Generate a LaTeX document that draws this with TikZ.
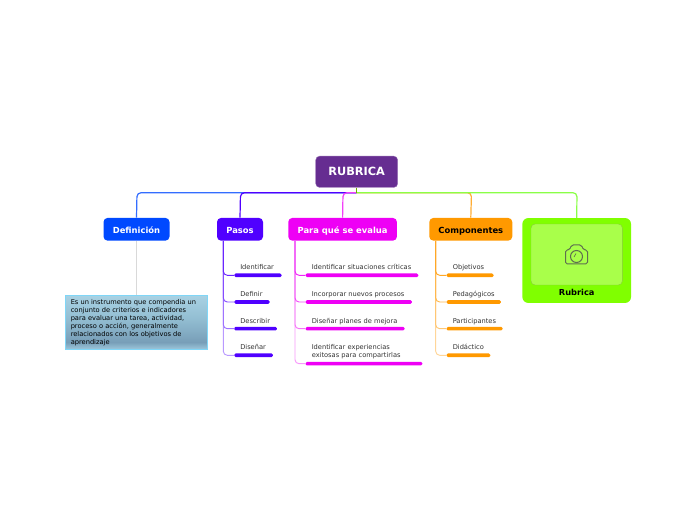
\documentclass[tikz,border=0pt]{standalone}
\usepackage{fontspec}
\setmainfont{DejaVu Sans}
\definecolor{cRoot}{HTML}{662D91}
\definecolor{cDef}{HTML}{0049FF}
\definecolor{cPas}{HTML}{5000FF}
\definecolor{cPar}{HTML}{EE00F5}
\definecolor{cCom}{HTML}{FF9900}
\definecolor{cRub}{HTML}{80FF00}
\definecolor{cIn}{HTML}{A9FF4A}
\definecolor{cIco}{HTML}{5F6F50}
\pgfdeclareverticalshading{noteshade}{100bp}{
  rgb(0bp)=(0.62,0.79,0.87);
  rgb(25bp)=(0.62,0.79,0.87);
  rgb(32bp)=(0.47,0.62,0.72);
  rgb(42bp)=(0.52,0.68,0.77);
  rgb(55bp)=(0.58,0.75,0.83);
  rgb(75bp)=(0.66,0.82,0.89);
  rgb(100bp)=(0.66,0.82,0.89)}
\begin{document}
\begin{tikzpicture}[x=0.75pt,y=-0.75pt,
  box/.style={rounded corners=3pt,inner sep=0pt,anchor=center},
  topic/.style={box,font=\bfseries\fontsize{6.3}{8}\selectfont,minimum height=17pt,text height=6.4pt,text depth=0pt},
  bar/.style={rounded corners=1pt,inner sep=0pt,minimum height=2.7pt,anchor=west},
  lbl/.style={font=\fontsize{5}{6.2}\selectfont,text=black!80,anchor=base west,inner sep=0pt,align=left},
  link/.style={line width=0.9pt,rounded corners=3pt},
  sub/.style={line width=0.7pt,rounded corners=3pt}]
\useasboundingbox (0,0) rectangle (697,520);
\fill[white] (0,0) rectangle (697,520);

% nodes
\node[box,fill=cRoot,draw=cRoot!70,line width=0.3pt,text=white,font=\bfseries\fontsize{8.5}{10}\selectfont,minimum width=61.5pt,minimum height=23.5pt] (root) at (356.7,171.8) {RUBRICA};
\node[topic,fill=cDef,text=white,minimum width=49.5pt] (def) at (136.5,229.3) {Definición};
\node[topic,fill=cPas,text=white,minimum width=34.5pt] (pas) at (240,229.3) {Pasos};
\node[topic,fill=cPar,text=white,minimum width=81.5pt] (par) at (342.6,229.3) {Para qué se evalua};
\node[topic,fill=cCom,text=black,minimum width=62.2pt] (com) at (470.8,229.3) {Componentes};
\node[box,fill=cRub,minimum width=81.5pt,minimum height=63.7pt,rounded corners=4.5pt] (rub) at (576.7,260.5) {};
\node[box,fill=cIn,draw=cIn!80!black,line width=0.3pt,minimum width=68.5pt,minimum height=45.7pt] (img) at (576.7,254.5) {};
\node[font=\bfseries\fontsize{6.2}{8}\selectfont,inner sep=0pt] (rubt) at (576.7,292) {Rubrica};
\node[inner sep=0pt,minimum width=106.8pt,minimum height=40.8pt,draw=cyan!50!white,line width=0.4pt,shading=noteshade] (note) at (136.5,322.5) {};
\node[anchor=north west,inner sep=0pt,align=left,font=\fontsize{5}{6}\selectfont,text=black] (notet) at (70.5,299.3)
  {Es un instrumento que compendia un\\conjunto de criterios e indicadores\\para evaluar una tarea, actividad,\\proceso o acción, generalmente\\relacionados con los objetivos de\\aprendizaje};

% camera icon
\coordinate (camc) at (576.5,256.5);
\draw[cIco,line width=0.75pt,rounded corners=1.3pt,line join=round]
  ([shift={(-11,-6.5)}]camc) -- ([shift={(-7,-6.5)}]camc) -- ([shift={(-5,-11.5)}]camc) -- ([shift={(5,-11.5)}]camc) -- ([shift={(7,-6.5)}]camc) -- ([shift={(11,-6.5)}]camc) -- ([shift={(11,7.5)}]camc) -- ([shift={(-11,7.5)}]camc) -- cycle;
\draw[cIco,line width=0.75pt] (camc) circle[radius=6];
\draw[cIco,line width=0.5pt] ([shift={(-2.5,0.5)}]camc) -- ([shift={(-0.5,-3)}]camc);

% bus
\coordinate (bus) at (356.7,192.7);
\draw[link,cDef!80!white] (bus) -- (137,192.7) -- (def.north);
\draw[link,cPas] (bus) -- (240.5,192.7) -- (pas.north);
\draw[link,cPar!75!white] (bus) -- (343,192.7) -- (par.north);
\draw[link,cCom!80!white] (bus) -- (471.5,192.7) -- (com.north);
\draw[link,cRub!65!white!80!green] (bus) -- (577,192.7) -- (rub.north);
\draw[line width=1pt,cRub!60!black!80!yellow] (root.south -| bus) -- (bus);
\draw[line width=1.3pt,black!15] (def.south) -- (note.north);

% children
\newcommand{\kid}[5]{% name, colour, right end, y of bar, start x
  \node[bar,fill=#2,minimum width={(#3-#5)*0.75pt}] (#1) at (#5,#4) {};}

% Pasos
\kid{pa}{cPas}{281.3}{275.3}{234}
\kid{pb}{cPas}{269.3}{302}{234}
\kid{pc}{cPas}{276.7}{328.7}{234}
\kid{pd}{cPas}{272.7}{355.3}{234}
\coordinate (ps) at (223.3,240.7);
\draw[sub,cPas!40!white] (ps) |- (pd.west);
\draw[sub,cPas!55!white] (ps) |- (pc.west);
\draw[sub,cPas!70!white] (ps) |- (pb.west);
\draw[sub,cPas!85!white] (ps) |- (pa.west);
\node[lbl] (pat) at (240,270) {Identificar};
\node[lbl] (pbt) at (240,296.5) {Definir};
\node[lbl] (pct) at (240,323.2) {Describir};
\node[lbl] (pdt) at (240,350) {Diseñar};

% Para que
\kid{qa}{cPar}{418}{275.3}{305.3}
\kid{qb}{cPar}{411.7}{302}{305.3}
\kid{qc}{cPar}{404.3}{328.7}{305.3}
\kid{qd}{cPar}{422}{363.7}{305.3}
\coordinate (qs) at (295,240.7);
\draw[sub,cPar!40!white] (qs) |- (qd.west);
\draw[sub,cPar!55!white] (qs) |- (qc.west);
\draw[sub,cPar!70!white] (qs) |- (qb.west);
\draw[sub,cPar!85!white] (qs) |- (qa.west);
\node[lbl] (qat) at (311.5,270) {Identificar situaciones críticas};
\node[lbl] (qbt) at (311.5,296.5) {Incorporar nuevos procesos};
\node[lbl] (qct) at (311.5,323.2) {Diseñar planes de mejora};
\node[lbl] (qdt) at (311.5,358) {Identificar experiencias\\exitosas para compartirlas};

% Componentes
\kid{ca}{cCom}{493.3}{275.3}{446.3}
\kid{cb}{cCom}{500.7}{302}{446.3}
\kid{cc}{cCom}{502.3}{328.7}{446.3}
\kid{cd}{cCom}{490}{355.3}{446.3}
\coordinate (cs) at (435.7,240.7);
\draw[sub,cCom!40!white] (cs) |- (cd.west);
\draw[sub,cCom!55!white] (cs) |- (cc.west);
\draw[sub,cCom!70!white] (cs) |- (cb.west);
\draw[sub,cCom!85!white] (cs) |- (ca.west);
\node[lbl] (cat) at (452.5,270) {Objetivos};
\node[lbl] (cbt) at (452.5,296.5) {Pedagógicos};
\node[lbl] (cct) at (452.5,323.2) {Participantes};
\node[lbl] (cdt) at (452.5,350) {Didáctico};
\end{tikzpicture}
\end{document}
